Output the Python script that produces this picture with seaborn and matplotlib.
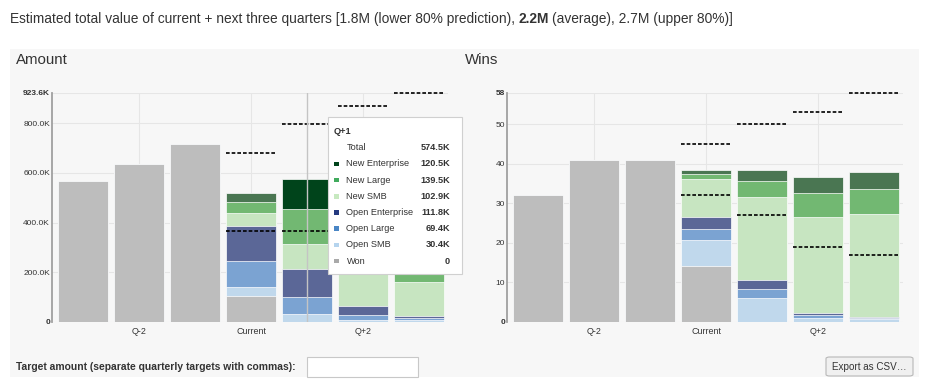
import numpy as np
import pandas as pd
import matplotlib
matplotlib.use("Agg")
import matplotlib.pyplot as plt
from matplotlib.patches import Rectangle, FancyBboxPatch
import seaborn as sns

# data
quarters = ["Q-3", "Q-2", "Q-1", "Current", "Q+1", "Q+2", "Q+3"]
tick_pos = [1, 3, 5]
tick_names = ["Q-2", "Current", "Q+2"]
segments = ["Won", "Open SMB", "Open Large", "Open Enterprise", "New SMB", "New Large", "New Enterprise"]
seg_colors = ["#bdbdbd", "#c0d8ec", "#7ba3d2", "#5b6797", "#c7e5c1", "#72b872", "#4a7652"]
legend_colors = ["#a9a9a9", "#b5d4ee", "#4a86c5", "#253a80", "#c7e9c0", "#41ab5d", "#00441b"]
highlight_color = "#00441b"

# Amount, in K
amt_won = [567, 636, 718, 105, 0, 0, 0]
amt_open_smb = [0, 0, 0, 35, 30.4, 7, 8]
amt_open_large = [0, 0, 0, 106, 69.4, 20, 8]
amt_open_ent = [0, 0, 0, 140, 111.8, 36, 8]
amt_new_smb = [0, 0, 0, 51, 102.9, 150, 136]
amt_new_large = [0, 0, 0, 45, 139.5, 150, 160]
amt_new_ent = [0, 0, 0, 38, 120.5, 190, 230]
amt_upper = [np.nan, np.nan, np.nan, 681, 797, 871, 923.6]
amt_lower = [np.nan, np.nan, np.nan, 367, 367, 330, 300]
amt_ticks = [0, 200, 400, 600, 800, 923.6]
amt_ticklabels = ["0", "200.0K", "400.0K", "600.0K", "800.0K", "923.6K"]

# Wins
win_won = [32, 41, 41, 14, 0, 0, 0]
win_open_smb = [0, 0, 0, 6.7, 6.1, 0.85, 0.7]
win_open_large = [0, 0, 0, 2.85, 2.1, 0.85, 0.3]
win_open_ent = [0, 0, 0, 2.85, 2.4, 0.6, 0.2]
win_new_smb = [0, 0, 0, 9.7, 21.0, 24.3, 26.2]
win_new_large = [0, 0, 0, 1.4, 4.0, 6.1, 6.3]
win_new_ent = [0, 0, 0, 0.8, 2.7, 3.9, 4.2]
win_upper = [np.nan, np.nan, np.nan, 45.1, 50.0, 53.0, 58.0]
win_lower = [np.nan, np.nan, np.nan, 32.0, 27.0, 19.0, 17.0]
win_ticks = [0, 10, 20, 30, 40, 50, 58]
win_ticklabels = ["0", "10", "20", "30", "40", "50", "58"]

amount = pd.DataFrame(dict(zip(segments, [amt_won, amt_open_smb, amt_open_large, amt_open_ent,
                                          amt_new_smb, amt_new_large, amt_new_ent])), index=quarters)
wins = pd.DataFrame(dict(zip(segments, [win_won, win_open_smb, win_open_large, win_open_ent,
                                        win_new_smb, win_new_large, win_new_ent])), index=quarters)

sns.set_style("white")
plt.rcParams["font.family"] = ["Liberation Sans", "DejaVu Sans"]
TXT = "#333333"

W, H = 936, 388
fig = plt.figure(figsize=(W / 100, H / 100), dpi=100)


def fx(px):
    return px / W


def fy(py):
    return 1 - py / H


# gray panel behind both charts
fig.add_artist(Rectangle((fx(10), fy(377)), fx(909), (377 - 49) / H, transform=fig.transFigure,
                         facecolor="#f7f7f7", edgecolor="none", zorder=-5))

bar_w = 50 / 56


def stacked(ax, df, ylim, ticks, ticklabels, upper, lower, highlight=None):
    cum = df.cumsum(axis=1)
    # draw from the top of the stack down so each layer covers the one above
    for seg, col in zip(reversed(segments), reversed(seg_colors)):
        pal = [col] * len(quarters)
        if highlight is not None and seg == "New Enterprise":
            pal[quarters.index(highlight)] = highlight_color
        sns.barplot(x=quarters, y=cum[seg].values, hue=quarters, palette=pal, order=quarters,
                    hue_order=quarters, legend=False, width=bar_w, saturation=1,
                    edgecolor="white", linewidth=0.5, ax=ax, zorder=2)
    xs = np.arange(len(quarters))
    for lvl in (upper, lower):
        ax.hlines(lvl, xs - bar_w / 2, xs + bar_w / 2, colors="black", linewidth=1.2,
                  linestyles=(0, (2.2, 1.2)), zorder=4, clip_on=False)
    ax.set_xlim(-0.554, 6.518)
    ax.set_ylim(0, ylim)
    ax.set_facecolor("none")
    ax.set_xticks(tick_pos)
    ax.set_xticklabels(tick_names)
    ax.set_yticks(ticks)
    ax.set_yticklabels(ticklabels)
    ax.tick_params(axis="x", length=0, pad=3.5, labelsize=6.4, labelcolor=TXT)
    ax.tick_params(axis="y", length=0, pad=1.5, labelsize=6.0, labelcolor=TXT)
    labs = ax.get_yticklabels()
    labs[0].set_fontweight("bold")
    labs[-1].set_fontweight("bold")
    ax.grid(True, color="#e6e6e6", linewidth=0.8, zorder=0)
    ax.set_axisbelow(True)
    ax.set_xlabel("")
    ax.set_ylabel("")
    for s in ["top", "right", "bottom"]:
        ax.spines[s].set_visible(False)
    ax.spines["left"].set_color("#a0a0a0")
    ax.spines["left"].set_linewidth(1.3)


ax1 = fig.add_axes([fx(52), fy(321.7), fx(396), 229 / H])
stacked(ax1, amount, 923.6, amt_ticks, amt_ticklabels, amt_upper, amt_lower, highlight="Q+1")
ax1.axvline(4, color="#c4c4c4", linewidth=1, zorder=5)

ax2 = fig.add_axes([fx(507), fy(321.7), fx(396), 229 / H])
stacked(ax2, wins, 58, win_ticks, win_ticklabels, win_upper, win_lower)

fig.text(fx(16), fy(60), "Amount", fontsize=10.8, color=TXT, va="center", ha="left")
fig.text(fx(465), fy(60), "Wins", fontsize=10.8, color=TXT, va="center", ha="left")

# title with bold average
renderer = fig.canvas.get_renderer()
parts = [("Estimated total value of current + next three quarters [1.8M (lower 80% prediction),", "normal"),
         ("2.2M", "bold"),
         ("(average), 2.7M (upper 80%)]", "normal")]
x = fx(10)
for txt, w in parts:
    t = fig.text(x, fy(19), txt, fontsize=9.95, fontweight=w, color=TXT, va="center", ha="left")
    bb = t.get_window_extent(renderer)
    x = fx(bb.x1 + 3.2)

# tooltip for Q+1
q = "Q+1"
vals = amount.loc[q]
fig.add_artist(Rectangle((fx(328), fy(274)), fx(134), (274 - 117) / H, transform=fig.transFigure,
                         facecolor="white", edgecolor="#d0d0d0", linewidth=0.8, zorder=10))
fig.text(fx(334), fy(131.5), q, fontsize=6.6, fontweight="bold", color=TXT, va="center", ha="left", zorder=11)
row_names = ["Total"] + list(reversed(segments))
row_vals = [vals.sum()] + [vals[s] for s in reversed(segments)]
row_cols = [None] + list(reversed(legend_colors))
for i, (n, v, c) in enumerate(zip(row_names, row_vals, row_cols)):
    yy = 147.7 + i * 16.2
    if c is not None:
        fig.add_artist(Rectangle((fx(334), fy(yy + 2.3)), fx(4.6), 4.6 / H, transform=fig.transFigure,
                                 facecolor=c, edgecolor="none", zorder=11))
    fig.text(fx(346.5), fy(yy), n, fontsize=6.6, color=TXT, va="center", ha="left", zorder=11)
    label = "0" if v == 0 else f"{v:.1f}K"
    fig.text(fx(450), fy(yy), label, fontsize=6.6, fontweight="bold", color=TXT, va="center",
             ha="right", zorder=11)

# bottom controls
fig.text(fx(16), fy(367), "Target amount (separate quarterly targets with commas):", fontsize=7.35,
         fontweight="bold", color=TXT, va="center", ha="left")
fig.add_artist(Rectangle((fx(307), fy(377)), fx(111), 20 / H, transform=fig.transFigure,
                         facecolor="white", edgecolor="#c8c8c8", linewidth=0.8))
fig.add_artist(FancyBboxPatch((fx(826), fy(376)), fx(87), 19 / H, boxstyle="round,pad=0,rounding_size=0.004",
                              transform=fig.transFigure, facecolor="#f0f0f0", edgecolor="#b8b8b8",
                              linewidth=0.8))
fig.text(fx(869.5), fy(366.5), "Export as CSV\u2026", fontsize=7.1, color=TXT, va="center", ha="center")

fig.savefig("out.png", dpi=100)
